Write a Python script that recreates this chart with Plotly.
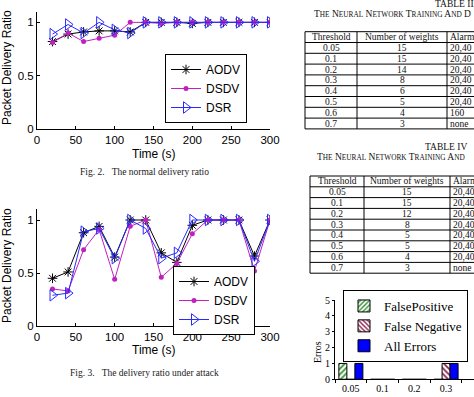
import plotly.graph_objects as go

W, H = 474, 397


def px(x):
    return x / W


def py(y):
    return 1 - y / H


# ---------------- data ----------------
time_s = [20, 40, 60, 80, 100, 120, 140, 160, 180, 200, 220, 240, 260, 280, 300]

normal_aodv = [0.82, 0.89, 0.91, 0.92, 0.92, 0.91, 1.0, 1.0, 1.0, 0.99, 1.0, 1.0, 1.0, 1.0, 1.0]
normal_dsdv = [0.81, 0.90, 0.82, 0.85, 0.88, 1.0, 1.0, 0.99, 1.0, 1.0, 1.0, 1.0, 1.0, 1.0, 1.0]
normal_dsr = [0.89, 0.98, 0.90, 1.0, 0.93, 0.90, 1.0, 1.0, 1.0, 1.0, 1.0, 1.0, 1.0, 1.0, 1.0]

attack_aodv = [0.45, 0.51, 0.88, 0.94, 0.65, 1.0, 1.0, 0.69, 0.60, 0.95, 1.0, 1.0, 1.0, 0.66, 1.0]
attack_dsdv = [0.35, 0.33, 0.72, 0.91, 0.44, 0.94, 1.0, 0.46, 0.59, 0.87, 1.0, 1.0, 1.0, 0.52, 1.0]
attack_dsr = [0.29, 0.31, 0.89, 0.92, 0.64, 1.0, 0.92, 0.64, 0.69, 1.0, 1.0, 1.0, 1.0, 0.61, 1.0]

x_ticks = [0, 50, 100, 150, 200, 250, 300]
y_ticks = [0, 0.5, 1]
y_tick_text = ["0", "0.5", "1"]

table_header = ["Threshold", "Number of weights", "Alarm"]
table_threshold = ["0.05", "0.1", "0.2", "0.3", "0.4", "0.5", "0.6", "0.7"]
table3_weights = ["15", "15", "14", "8", "6", "5", "4", "3"]
table3_alarm = ["20,40", "20,40", "20,40", "20,40", "20,40", "20,40", "160", "none"]
table4_weights = ["15", "15", "12", "8", "5", "5", "4", "3"]
table4_alarm = ["20,40", "20,40", "20,40", "20,40", "20,40", "20,40", "20,40", "none"]

bar_thresholds = ["0.05", "0.1", "0.2", "0.3"]
false_positive = [1, 0, 0, 0]
false_negative = [0, 0, 0, 1]
all_errors = [1, 0, 0, 1]

# ---------------- styles ----------------
SANS = "Liberation Sans, Arial, sans-serif"
SERIF = "Liberation Serif, Times New Roman, serif"
C_AODV = "#000000"
C_DSDV = "#c020c0"
C_DSR = "#2a2aff"

fig = go.Figure()

protocols = [
    ("AODV", C_AODV, dict(symbol="asterisk-open", size=8, line=dict(color=C_AODV, width=1))),
    ("DSDV", C_DSDV, dict(symbol="circle", size=5, color=C_DSDV, line=dict(width=0))),
    ("DSR", C_DSR, dict(symbol="triangle-right-open", size=10, color=C_DSR, line=dict(color=C_DSR, width=1))),
]

for (name, color, mk), ys in zip(protocols, [normal_aodv, normal_dsdv, normal_dsr]):
    fig.add_trace(go.Scatter(x=time_s, y=ys, name=name, mode="lines+markers",
                             line=dict(color=color, width=1), marker=mk,
                             xaxis="x", yaxis="y", legend="legend"))

for (name, color, mk), ys in zip(protocols, [attack_aodv, attack_dsdv, attack_dsr]):
    fig.add_trace(go.Scatter(x=time_s, y=ys, name=name, mode="lines+markers",
                             line=dict(color=color, width=1), marker=mk,
                             xaxis="x2", yaxis="y2", legend="legend2"))

fig.add_trace(go.Bar(x=bar_thresholds, y=false_positive, name="FalsePositive",
                     marker=dict(color="white",
                                 pattern=dict(shape="/", fgcolor="#2f8f2f", bgcolor="white", size=4, solidity=0.45),
                                 line=dict(color="black", width=1)),
                     xaxis="x3", yaxis="y3", legend="legend3"))
fig.add_trace(go.Bar(x=bar_thresholds, y=false_negative, name="False Negative",
                     marker=dict(color="white",
                                 pattern=dict(shape="\\", fgcolor="#8c1c4c", bgcolor="white", size=4, solidity=0.45),
                                 line=dict(color="black", width=1)),
                     xaxis="x3", yaxis="y3", legend="legend3"))
fig.add_trace(go.Bar(x=bar_thresholds, y=all_errors, name="All Errors",
                     marker=dict(color="#0000ff", line=dict(color="black", width=1)),
                     xaxis="x3", yaxis="y3", legend="legend3"))


def line_axes(ydom):
    xa = dict(domain=[px(37), px(270)], range=[0, 300], tickvals=x_ticks,
              ticks="inside", ticklen=3, tickcolor="black", showline=True, linecolor="black",
              linewidth=1, showgrid=False, zeroline=False,
              tickfont=dict(family=SANS, size=11.5, color="black"))
    ya = dict(domain=ydom, range=[0, 1.1], tickvals=y_ticks, ticktext=y_tick_text,
              ticks="inside", ticklen=3, tickcolor="black", showline=True, linecolor="black",
              linewidth=1, showgrid=False, zeroline=False,
              tickfont=dict(family=SANS, size=11.5, color="black"))
    return xa, ya


xa1, ya1 = line_axes([py(129), py(11.7)])
xa2, ya2 = line_axes([py(326), py(209.4)])
ya2["anchor"] = "x2"
xa2["anchor"] = "y2"

shapes = []
annotations = []

# axis titles and captions for line charts
for yc_title, y_time, y_cap, cap in [
    (68, 154, 172, "Fig. 2.\u00a0\u00a0\u00a0The normal delivery ratio"),
    (266, 350, 373, "Fig. 3.\u00a0\u00a0\u00a0The delivery ratio under attack"),
]:
    annotations.append(dict(text="Packet Delivery Ratio", x=px(7), y=py(yc_title), xref="paper", yref="paper",
                            textangle=-90, showarrow=False, xanchor="center", yanchor="middle",
                            font=dict(family=SANS, size=12, color="black")))
    annotations.append(dict(text="Time (s)", x=px(153.5), y=py(y_time), xref="paper", yref="paper",
                            showarrow=False, xanchor="center", yanchor="middle",
                            font=dict(family=SANS, size=12, color="black")))
    annotations.append(dict(text=cap, x=px(144), y=py(y_cap), xref="paper", yref="paper",
                            showarrow=False, xanchor="center", yanchor="middle",
                            font=dict(family=SERIF, size=9.5, color="#222")))

# bar chart y title
annotations.append(dict(text="Erros", x=px(317), y=py(352), xref="paper", yref="paper",
                        textangle=-90, showarrow=False, xanchor="center", yanchor="middle",
                        font=dict(family=SERIF, size=10, color="black")))


def smallcaps(text, small=7.3):
    out = []
    for w in text.split(" "):
        out.append(w[0] + '<span style="font-size:%spx">%s</span>' % (small, w[1:]) if len(w) > 1 else w)
    return " ".join(out)


ROW_H = 10.8
title_top_y = {"TABLE III": 4, "TABLE IV": 146.7}


def add_table(top, edges, title_top, title_left, title_cap, cap_left, weights, alarms):
    annotations.append(dict(text=title_top, x=px(title_left), y=py(title_top_y[title_top]), xref="paper",
                            yref="paper", showarrow=False, xanchor="left", yanchor="middle",
                            font=dict(family=SERIF, size=9.5, color="#111")))
    annotations.append(dict(text=smallcaps(title_cap), x=px(cap_left), y=py(title_top_y[title_top] + 10.3),
                            xref="paper", yref="paper", showarrow=False, xanchor="left", yanchor="middle",
                            font=dict(family=SERIF, size=9.5, color="#111")))
    rows = [table_header] + [list(r) for r in zip(table_threshold, weights, alarms)]
    n = len(rows)
    for i in range(n + 1):
        yy = top + i * ROW_H
        shapes.append(dict(type="line", xref="paper", yref="paper", x0=px(edges[0]), x1=px(W + 10),
                           y0=py(yy), y1=py(yy), line=dict(color="black", width=1)))
    for e in edges:
        shapes.append(dict(type="line", xref="paper", yref="paper", x0=px(e), x1=px(e),
                           y0=py(top), y1=py(top + n * ROW_H), line=dict(color="black", width=1)))
    for r, row in enumerate(rows):
        yc = top + (r + 0.5) * ROW_H
        for c, txt in enumerate(row):
            if c < 2:
                xx, anchor = (edges[c] + edges[c + 1]) / 2, "center"
            else:
                xx, anchor = edges[2] + 1, "left"
            annotations.append(dict(text=txt, x=px(xx), y=py(yc), xref="paper", yref="paper",
                                    showarrow=False, xanchor=anchor, yanchor="middle",
                                    font=dict(family=SERIF, size=9.5, color="#111")))


add_table(31.7, [305, 357, 447], "TABLE III", 433, "THE NEURAL NETWORK TRAINING AND D", 312,
          table3_weights, table3_alarm)
add_table(176, [310, 364, 450], "TABLE IV", 423, "THE NEURAL NETWORK TRAINING AND", 315,
          table4_weights, table4_alarm)

legend_common = dict(xanchor="left", yanchor="top", bgcolor="white", bordercolor="black", borderwidth=1)

fig.update_layout(
    width=W, height=H,
    margin=dict(l=0, r=0, t=0, b=0, autoexpand=False),
    paper_bgcolor="white", plot_bgcolor="white",
    template="none",
    xaxis=xa1, yaxis=ya1,
    xaxis2=xa2, yaxis2=ya2,
    xaxis3=dict(domain=[px(335), 1], range=[-0.5, 3.88], type="category", anchor="y3",
                ticks="outside", tickson="boundaries", ticklen=3, tickcolor="black",
                showline=True, linecolor="black", linewidth=1, showgrid=False, zeroline=False,
                tickfont=dict(family=SERIF, size=10, color="black")),
    yaxis3=dict(domain=[py(379.3), py(300)], range=[0, 5], dtick=1, anchor="x3",
                ticks="outside", ticklen=2, tickcolor="black",
                showline=True, linecolor="black", linewidth=1, showgrid=False, zeroline=False,
                tickfont=dict(family=SERIF, size=10, color="black")),
    barmode="group", bargap=0.243, bargroupgap=0,
    legend=dict(x=px(165), y=py(54), font=dict(family=SANS, size=12, color="black"), **legend_common),
    legend2=dict(x=px(173), y=py(266), font=dict(family=SANS, size=12, color="black"), **legend_common),
    legend3=dict(x=px(343), y=py(290), font=dict(family=SERIF, size=13, color="black"), **legend_common),
    shapes=shapes,
    annotations=annotations,
    showlegend=True,
)

fig.write_html(
    "out.html",
    config={"displayModeBar": False},
    post_script="document.body.style.margin='0';document.body.style.padding='0';"
                "document.documentElement.style.overflow='hidden';",
)
